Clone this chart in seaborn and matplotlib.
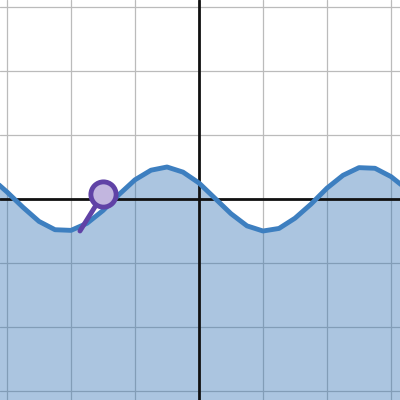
import matplotlib
matplotlib.use("Agg")
import matplotlib.pyplot as plt
import seaborn as sns
import pandas as pd

x_vals = [-3.25,-3.0,-2.75,-2.5,-2.25,-2.0,-1.75,-1.5,-1.25,-1.0,-0.75,-0.5,-0.25,0.0,
          0.25,0.5,0.75,1.0,1.25,1.5,1.75,2.0,2.25,2.5,2.75,3.0,3.25]
y_vals = [0.33,0.11,-0.13,-0.35,-0.48,-0.49,-0.38,-0.18,0.07,0.30,0.45,0.50,0.42,0.25,
          0.01,-0.23,-0.42,-0.50,-0.46,-0.30,-0.08,0.17,0.37,0.49,0.48,0.35,0.15]
tool_x = [-1.86, -1.5]
tool_y = [-0.5, 0.08]
grid_ticks = [-3, -2, -1, 0, 1, 2, 3]

df = pd.DataFrame({"x": x_vals, "y": y_vals})
sns.set_style("white")
fig = plt.figure(figsize=(4, 4), dpi=100)
ax = fig.add_axes([0, 0, 1, 1])
xmin, xmax = -199/64, 201/64
ymin, ymax = -201/64, 199/64

for t in grid_ticks:
    ax.axvline(t, color="#bbbbbb", lw=0.9, zorder=0)
    ax.axhline(t, color="#bbbbbb", lw=0.9, zorder=0)

ax.fill_between(df["x"], df["y"], ymin, color="#2d70b3", alpha=0.4, lw=0, zorder=1)
ax.axhline(0, color="#111111", lw=2, zorder=2)
ax.axvline(0, color="#111111", lw=2, zorder=2)
sns.lineplot(data=df, x="x", y="y", ax=ax, color="#3d7fc0", lw=3.5, zorder=3, sort=False)

ax.plot(tool_x, tool_y, color="#6042a6", lw=3.5, solid_capstyle="round", zorder=4)
ax.scatter([tool_x[1]], [tool_y[1]], s=330, facecolor="#c2b6df", edgecolor="#6042a6",
           linewidth=3.5, zorder=5)

ax.set_xlim(xmin, xmax)
ax.set_ylim(ymin, ymax)
ax.set_xticks([]); ax.set_yticks([])
ax.set_xlabel(""); ax.set_ylabel("")
for s in ax.spines.values():
    s.set_visible(False)
fig.savefig("out.png", dpi=100)
